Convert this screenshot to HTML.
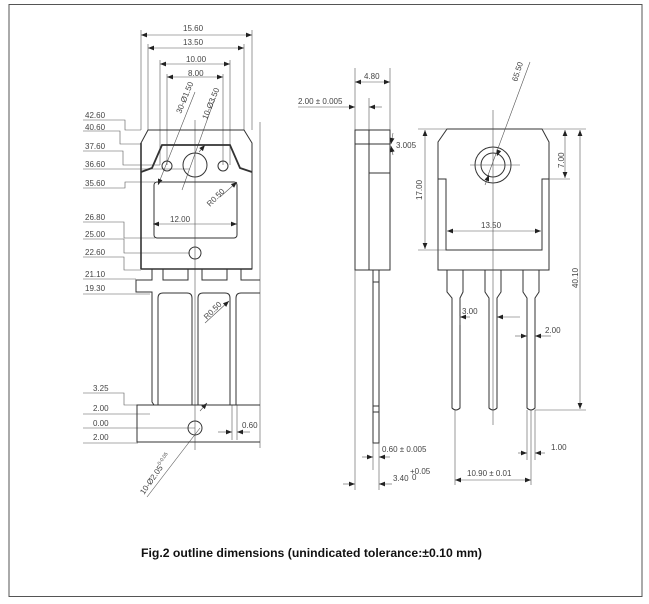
<!DOCTYPE html>
<html><head><meta charset="utf-8"><style>
html,body{margin:0;padding:0;background:#fff}
svg{display:block}
text{font-family:"Liberation Sans",sans-serif;font-size:8px;fill:#444}
</style></head><body>
<svg width="649" height="604" viewBox="0 0 649 604" xmlns="http://www.w3.org/2000/svg">
<defs>
<marker id="a" viewBox="0 0 10 10" refX="10" refY="5" markerWidth="9" markerHeight="6" markerUnits="userSpaceOnUse" orient="auto-start-reverse"><path d="M0,1 L10,5 L0,9z" fill="#222"/></marker>
</defs>
<rect x="9" y="4.5" width="633" height="592" fill="none" stroke="#555" stroke-width="1"/>
<g stroke="#555" stroke-width="0.6" fill="none">
<line x1="141" y1="30" x2="141" y2="130"/><line x1="252" y1="30" x2="252" y2="130"/>
<line x1="148" y1="44" x2="148" y2="130"/><line x1="244" y1="44" x2="244" y2="130"/>
<line x1="160" y1="60" x2="160" y2="165"/><line x1="230" y1="60" x2="230" y2="165"/>
<line x1="167" y1="74" x2="167" y2="165"/><line x1="223" y1="74" x2="223" y2="165"/>
<line x1="141" y1="35" x2="252" y2="35" marker-start="url(#a)" marker-end="url(#a)"/>
<line x1="148" y1="48" x2="244" y2="48" marker-start="url(#a)" marker-end="url(#a)"/>
<line x1="160" y1="64" x2="230" y2="64" marker-start="url(#a)" marker-end="url(#a)"/>
<line x1="167" y1="77" x2="223" y2="77" marker-start="url(#a)" marker-end="url(#a)"/>
<line x1="260" y1="122" x2="260" y2="448"/>
<line x1="195" y1="120" x2="195" y2="450"/>
<polyline points="83,120 125,120 125,130 141,130"/>
<polyline points="83,131 120,131 120,144 141,144"/>
<polyline points="83,151 123,151 123,165 160,165"/>
<polyline points="83,169 190,169"/>
<polyline points="83,188 125,188 125,182 155,182"/>
<polyline points="83,222 124,222 124,238 155,238"/>
<polyline points="83,239 124,239 124,253 190,253"/>
<polyline points="83,257 124,257 124,270 141,270"/>
<line x1="83" y1="279" x2="136" y2="279"/>
<line x1="83" y1="294" x2="150" y2="294"/>
<polyline points="83,393 124,393 124,405 152,405"/>
<line x1="83" y1="414" x2="150" y2="414"/>
<line x1="83" y1="428" x2="195" y2="428"/>
<line x1="83" y1="443" x2="138" y2="443"/>
<line x1="195" y1="92" x2="158" y2="185" marker-end="url(#a)"/>
<line x1="215" y1="98" x2="182" y2="190" />
<line x1="199" y1="152" x2="205" y2="145" marker-end="url(#a)"/>
<line x1="220" y1="197" x2="237" y2="182" marker-end="url(#a)"/>
<line x1="153" y1="224" x2="237" y2="224" marker-start="url(#a)" marker-end="url(#a)"/>
<line x1="205" y1="323" x2="229" y2="301" marker-end="url(#a)"/>
<line x1="147" y1="497" x2="200" y2="428"/>
<line x1="200" y1="411" x2="207" y2="403" marker-end="url(#a)"/>
<line x1="218" y1="432" x2="232" y2="432" marker-end="url(#a)"/>
<line x1="250" y1="432" x2="237" y2="432" marker-end="url(#a)"/>
<line x1="232" y1="405" x2="232" y2="440"/><line x1="237" y1="405" x2="237" y2="440"/>
</g>
<g stroke="#333" stroke-width="1" fill="none">
<path d="M148,130 L244,130 L252,143 L252,269 L141,269 L141,143 Z"/>
<path d="M141,172 L152,168 L162,145 L230,145 L240,168 L252,172" stroke-width="1.8"/>
<path d="M141,269 L252,269" stroke-width="1.6"/>
<line x1="141" y1="143" x2="141" y2="269" stroke-width="1.6"/>
<rect x="154" y="182" width="83" height="56" rx="3"/>
<circle cx="167" cy="166" r="5"/><circle cx="223" cy="166" r="5"/><circle cx="195" cy="165" r="12"/>
<circle cx="195" cy="253" r="6"/>
<path d="M152,269 L152,280 L136,280 L136,292 L152,292 L152,402 L154,405 L152,405 L137,405 L137,442 L260,442"/>
<path d="M163,269 L163,280 L188,280 L188,269"/><path d="M202,269 L202,280 L227,280 L227,269"/><path d="M241,269 L241,280 L260,280"/>
<path d="M158,405 L158,298 Q158,293 163,293 L187,293 Q192,293 192,298 L192,405"/>
<path d="M198,405 L198,298 Q198,293 203,293 L225,293 Q230,293 230,298 L230,405"/>
<path d="M236,405 L236,298 Q236,293 241,293 L260,293"/>
<line x1="137" y1="405" x2="260" y2="405"/>
<circle cx="195" cy="428" r="7"/>
<rect x="355" y="130" width="35" height="140"/>
<line x1="369" y1="130" x2="369" y2="270"/>
<line x1="355" y1="144" x2="390" y2="144"/><line x1="369" y1="173" x2="390" y2="173"/>
<rect x="373" y="270" width="6" height="173"/>
<line x1="373" y1="282" x2="379" y2="282"/><line x1="373" y1="406" x2="379" y2="406"/><line x1="373" y1="412" x2="379" y2="412"/>
<path d="M447,129 L542,129 L549,142 L549,270 L438,270 L438,142 Z"/>
<path d="M438,179 L446,179 L446,250 L542,250 L542,179 L549,179"/>
<circle cx="493" cy="165" r="18"/><circle cx="493" cy="165" r="12"/>
<path d="M447,270 L447,292 L452,298 L452,408 Q456,412 460,408 L460,298 L463,292 L463,270"/>
<path d="M485,270 L485,292 L489,298 L489,408 Q493,412 497,408 L497,298 L501,292 L501,270"/>
<path d="M523,270 L523,292 L527,298 L527,408 Q531,412 535,408 L535,298 L539,292 L539,270"/>
</g>
<g stroke="#555" stroke-width="0.6" fill="none">
<line x1="355" y1="68" x2="355" y2="130"/><line x1="390" y1="68" x2="390" y2="130"/>
<line x1="355" y1="82" x2="390" y2="82" marker-start="url(#a)" marker-end="url(#a)"/>
<line x1="369" y1="98" x2="369" y2="130"/>
<line x1="298" y1="107" x2="355" y2="107" marker-end="url(#a)"/><line x1="382" y1="107" x2="369" y2="107" marker-end="url(#a)"/>
<line x1="393" y1="133" x2="391" y2="144" marker-end="url(#a)"/><line x1="393" y1="155" x2="391" y2="146" marker-end="url(#a)"/>
<line x1="355" y1="270" x2="355" y2="490"/><line x1="379" y1="443" x2="379" y2="490"/><line x1="373" y1="443" x2="373" y2="470"/>
<line x1="362" y1="457" x2="373" y2="457" marker-end="url(#a)"/><line x1="390" y1="457" x2="379" y2="457" marker-end="url(#a)"/>
<line x1="343" y1="484" x2="355" y2="484" marker-end="url(#a)"/><line x1="392" y1="484" x2="379" y2="484" marker-end="url(#a)"/>
<line x1="418" y1="129" x2="447" y2="129"/><line x1="418" y1="250" x2="446" y2="250"/>
<line x1="425" y1="130" x2="425" y2="249" marker-start="url(#a)" marker-end="url(#a)"/>
<line x1="542" y1="129" x2="586" y2="129"/><line x1="549" y1="179" x2="570" y2="179"/><line x1="535" y1="410" x2="586" y2="410"/>
<line x1="565" y1="130" x2="565" y2="178" marker-start="url(#a)" marker-end="url(#a)"/>
<line x1="580" y1="130" x2="580" y2="409" marker-start="url(#a)" marker-end="url(#a)"/>
<line x1="447" y1="231" x2="541" y2="231" marker-start="url(#a)" marker-end="url(#a)"/>
<line x1="493" y1="110" x2="493" y2="425"/><line x1="470" y1="165" x2="520" y2="165"/>
<line x1="530" y1="62" x2="487" y2="178"/>
<line x1="489" y1="175" x2="485" y2="185" marker-start="url(#a)"/>
<line x1="497" y1="156" x2="499" y2="150" marker-start="url(#a)"/>
<line x1="455" y1="410" x2="455" y2="485"/><line x1="531" y1="410" x2="531" y2="485"/>
<line x1="527" y1="410" x2="527" y2="460"/><line x1="535" y1="410" x2="535" y2="460"/>
<line x1="455" y1="480" x2="531" y2="480" marker-start="url(#a)" marker-end="url(#a)"/>
<line x1="518" y1="453" x2="527" y2="453" marker-end="url(#a)"/><line x1="545" y1="453" x2="535" y2="453" marker-end="url(#a)"/>
<line x1="460" y1="316" x2="460" y2="325"/>
<line x1="470" y1="317" x2="460" y2="317" marker-end="url(#a)"/><line x1="520" y1="317" x2="497" y2="317" marker-end="url(#a)"/>
<line x1="515" y1="336" x2="527" y2="336" marker-end="url(#a)"/><line x1="551" y1="336" x2="535" y2="336" marker-end="url(#a)"/>
</g>
<text x="183" y="31">15.60</text><text x="183" y="45">13.50</text>
<text x="186" y="62">10.00</text><text x="188" y="76">8.00</text>
<text x="85" y="118">42.60</text><text x="85" y="130">40.60</text><text x="85" y="149">37.60</text>
<text x="85" y="167">36.60</text><text x="85" y="186">35.60</text><text x="85" y="220">26.80</text>
<text x="85" y="237">25.00</text><text x="85" y="255">22.60</text><text x="85" y="277">21.10</text>
<text x="85" y="291">19.30</text><text x="93" y="391">3.25</text><text x="93" y="411">2.00</text>
<text x="93" y="426">0.00</text><text x="93" y="440">2.00</text>
<text x="170" y="222">12.00</text><text x="242" y="428">0.60</text>
<text transform="translate(181,114) rotate(-68)">30-Ø1.50</text>
<text transform="translate(207,120) rotate(-68)">10-Ø3.50</text>
<text transform="translate(210,207) rotate(-45)">R0.50</text>
<text transform="translate(207,320) rotate(-45)">R0.50</text>
<text transform="translate(144,495) rotate(-55)">10-Ø2.05<tspan font-size="5" dy="-4">0</tspan><tspan font-size="5">-0.05</tspan></text>
<text x="364" y="79">4.80</text><text x="298" y="104">2.00 ± 0.005</text>
<text x="396" y="148">3.005</text>
<text transform="translate(422,200) rotate(-90)">17.00</text>
<text transform="translate(517,82) rotate(-72)">65.50</text>
<text x="481" y="228">13.50</text>
<text transform="translate(564,168) rotate(-90)">7.00</text>
<text transform="translate(578,288) rotate(-90)">40.10</text>
<text x="462" y="314">3.00</text><text x="545" y="333">2.00</text>
<text x="382" y="452">0.60 ± 0.005</text><text x="551" y="450">1.00</text>
<text x="393" y="481">3.40</text><text x="410" y="474" font-size="5">+0.05</text><text x="412" y="480" font-size="5">0</text>
<text x="467" y="476">10.90 ± 0.01</text>
<text x="141" y="557" textLength="341" lengthAdjust="spacingAndGlyphs" style="font-size:11.5px;font-weight:bold;fill:#111">Fig.2 outline dimensions (unindicated tolerance:±0.10 mm)</text>
</svg>
</body></html>
